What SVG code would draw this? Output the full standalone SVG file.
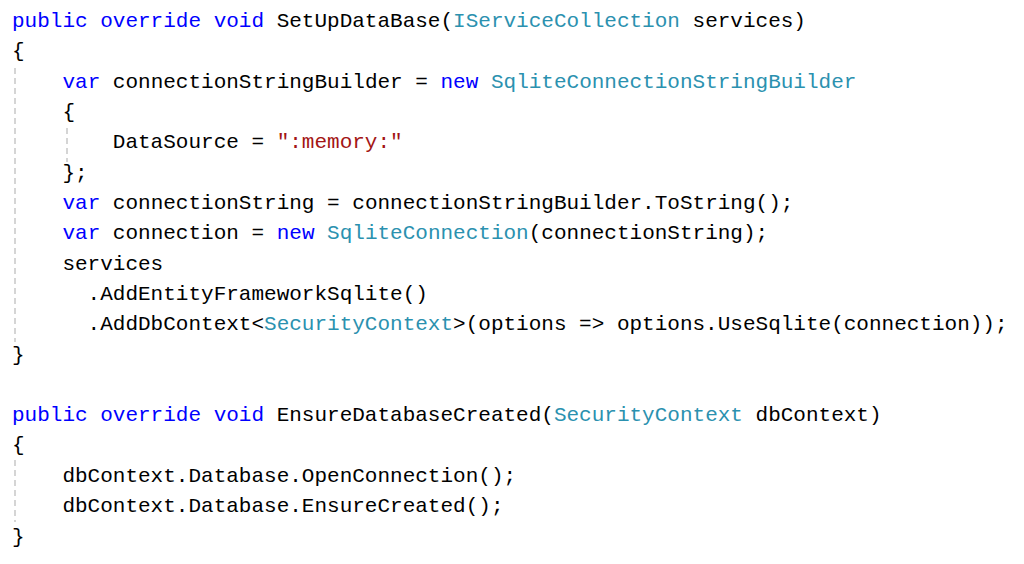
<svg xmlns="http://www.w3.org/2000/svg" width="1024" height="564" viewBox="0 0 1024 564">
<style>
text{font-family:"Liberation Mono","DejaVu Sans Mono",monospace;font-size:21px;fill:#000;white-space:pre}
.k{fill:#0000ff}.t{fill:#2b91af}.s{fill:#a31515}
.g{stroke:#c8c8c8;stroke-width:1.5;stroke-dasharray:6 4}
</style>
<rect width="1024" height="564" fill="#fff"/>
<g id="guides">
<line class="g" x1="15" y1="68" x2="15" y2="342"/>
<line class="g" x1="67" y1="128" x2="67" y2="162"/>
<line class="g" x1="15" y1="460" x2="15" y2="522"/>
</g>
<g id="code" xml:space="preserve">
<text x="12" y="27"><tspan class="k">public override void</tspan> SetUpDataBase(<tspan class="t">IServiceCollection</tspan> services)</text>
<text x="12" y="57">{</text>
<text x="12" y="88">    <tspan class="k">var</tspan> connectionStringBuilder = <tspan class="k">new</tspan> <tspan class="t">SqliteConnectionStringBuilder</tspan></text>
<text x="12" y="118">    {</text>
<text x="12" y="148">        DataSource = <tspan class="s">":memory:"</tspan></text>
<text x="12" y="179">    };</text>
<text x="12" y="209">    <tspan class="k">var</tspan> connectionString = connectionStringBuilder.ToString();</text>
<text x="12" y="239">    <tspan class="k">var</tspan> connection = <tspan class="k">new</tspan> <tspan class="t">SqliteConnection</tspan>(connectionString);</text>
<text x="12" y="270">    services</text>
<text x="12" y="300">      .AddEntityFrameworkSqlite()</text>
<text x="12" y="330">      .AddDbContext&lt;<tspan class="t">SecurityContext</tspan>&gt;(options =&gt; options.UseSqlite(connection));</text>
<text x="12" y="361">}</text>
<text x="12" y="421"><tspan class="k">public override void</tspan> EnsureDatabaseCreated(<tspan class="t">SecurityContext</tspan> dbContext)</text>
<text x="12" y="451">{</text>
<text x="12" y="482">    dbContext.Database.OpenConnection();</text>
<text x="12" y="512">    dbContext.Database.EnsureCreated();</text>
<text x="12" y="543">}</text>
</g>
</svg>
